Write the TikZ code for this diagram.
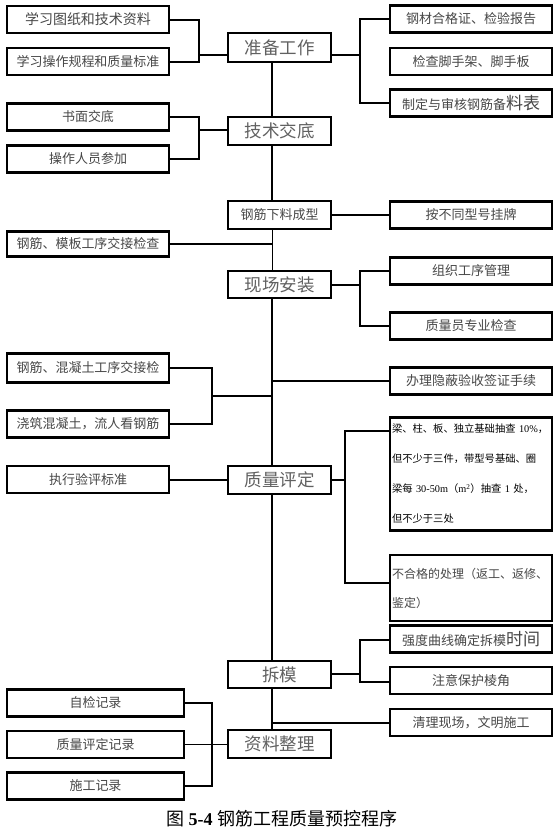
\documentclass[tikz,border=0pt]{standalone}
\usepackage{fontspec}
\setmainfont{Liberation Serif}
\newfontfamily\cjk{Noto Sans CJK SC}
\begin{document}
\begin{tikzpicture}[x=1pt,y=-1pt,
  box/.style={draw, line width=2.4pt, inner sep=0pt, text=black!72,
    font=\cjk\fontsize{13}{15}\selectfont, minimum height=27pt},
  lbox/.style={box, minimum width=162pt},
  wbox/.style={box, minimum width=177pt},
  cbox/.style={box, minimum width=103pt, minimum height=28pt, text=black!62,
    font=\cjk\fontsize{17.5}{19}\selectfont},
  rbox/.style={box, minimum width=162pt},
  conn/.style={line width=2pt},
  thinconn/.style={line width=1pt}]
\fill[white] (0,0) rectangle (560,831);
\useasboundingbox (0,0) rectangle (560,831);
\coordinate (sp) at (272,0);

% left boxes
\node[lbox] (L1) at (88,19.5) {\fontsize{14}{16}\selectfont 学习图纸和技术资料};
\node[lbox] (L2) at (88,61.5) {学习操作规程和质量标准};
\node[lbox] (L3) at (88,117) {书面交底};
\node[lbox] (L4) at (88,159) {操作人员参加};
\node[lbox, minimum height=25pt] (L5) at (88,244) {钢筋、模板工序交接检查};
\node[lbox, minimum height=29pt] (L6) at (88,368) {钢筋、混凝土工序交接检};
\node[lbox] (L7) at (88,424) {浇筑混凝土，流人看钢筋};
\node[lbox] (L8) at (88,479.5) {执行验评标准};
\node[wbox] (L9) at (95.5,703) {自检记录};
\node[wbox] (L10) at (95.5,744.5) {质量评定记录};
\node[wbox] (L11) at (95.5,786) {施工记录};

% centre boxes
\node[cbox, minimum height=29pt] (C1) at (279.5,47.5) {准备工作};
\node[cbox] (C2) at (279.5,131) {技术交底};
\node[cbox, text=black!72, font=\cjk\fontsize{13}{15}\selectfont] (C3) at (279.5,215) {钢筋下料成型};
\node[cbox, minimum height=27pt] (C4) at (279.5,284.5) {现场安装};
\node[cbox] (C5) at (279.5,480) {质量评定};
\node[cbox, minimum height=27pt] (C6) at (279.5,674.5) {拆模};
\node[cbox] (C7) at (279.5,744) {资料整理};

% right boxes
\node[rbox] (R1) at (471,19) {钢材合格证、检验报告};
\node[rbox] (R2) at (471,61.5) {检查脚手架、脚手板};
\node[rbox] (R3) at (471,103) {制定与审核钢筋备{\fontsize{17}{19}\selectfont 料表}};
\node[rbox] (R4) at (471,215) {按不同型号挂牌};
\node[rbox] (R5) at (471,271) {组织工序管理};
\node[rbox] (R6) at (471,326) {质量员专业检查};
\node[rbox] (R7) at (471,381) {办理隐蔽验收签证手续};
\node[rbox, minimum height=113pt, text width=158pt, inner xsep=2pt, align=left,
  text=black, font=\cjk\fontsize{10.3}{30}\selectfont] (R8) at (471,474)
  {\mbox{梁、柱、板、独立基础抽查~{\rmfamily 10\%}，}\\
   \mbox{但不少于三件，带型号基础、圈}\\
   \mbox{梁每~{\rmfamily 30-50m}（{\rmfamily m\textsuperscript{2}}）抽查~{\rmfamily 1}~处，}\\
   \mbox{但不少于三处}};
\node[rbox, minimum height=66pt, text width=158pt, inner xsep=2pt, align=left,
  font=\cjk\fontsize{12}{29}\selectfont] (R9) at (471,588)
  {\mbox{不合格的处理（返工、返修、}\\鉴定）};
\node[rbox] (R10) at (471,639) {强度曲线确定拆模{\fontsize{17}{19}\selectfont 时间}};
\node[rbox] (R11) at (471,680.5) {注意保护棱角};
\node[rbox] (R12) at (471,722.5) {清理现场，文明施工};

% spine
\draw[conn] (C1.south -| sp) -- (C2.north -| sp);
\draw[conn] (C2.south -| sp) -- (C3.north -| sp);
\draw[thinconn] (C3.south -| sp) -- (C4.north -| sp);
\draw[conn] (C4.south -| sp) -- (C5.north -| sp);
\draw[conn] (C5.south -| sp) -- (C6.north -| sp);
\draw[conn] (C6.south -| sp) -- (C7.north -| sp);

% section 1
\coordinate (b1) at (199,55);
\draw[conn] (L1.east) -| (b1) |- (L2.east);
\draw[conn] (b1) -- (b1 -| C1.west);
\coordinate (b2) at (360,55);
\draw[conn] (R1.west) -| (b2) |- (R3.west);
\draw[conn] (b2 -| C1.east) -- (b2);

% section 2
\coordinate (b5) at (199,130);
\draw[conn] (L3.east) -| (b5) |- (L4.east);
\draw[conn] (b5) -- (b5 -| C2.west);

% section 3
\draw[conn] (C3.east) -- (R4.west);
\draw[conn] (L5.east) -- (L5.east -| sp);

% section 4
\coordinate (b6) at (360,285);
\draw[conn] (R5.west) -| (b6) |- (R6.west);
\draw[conn] (b6 -| C4.east) -- (b6);
\draw[conn] (R7.west -| sp) -- (R7.west);
\coordinate (b3) at (212,396);
\draw[conn] (L6.east) -| (b3) |- (L7.east);
\draw[conn] (b3) -- (b3 -| sp);

% section 5
\draw[conn] (L8.east) -- (L8.east -| C5.west);
\coordinate (b4) at (345,480);
\draw[conn] ([yshift=-15pt]R8.north west) -| (b4) |- ([yshift=5pt]R9.west);
\draw[conn] (C5.east) -- (b4);

% section 6
\coordinate (b7) at (360,674);
\draw[conn] ([yshift=-1pt]R10.west) -| (b7) |- ([yshift=-1.5pt]R11.west);
\draw[conn] (b7 -| C6.east) -- (b7);
\draw[conn] (R12.west -| sp) -- (R12.west);
\coordinate (b8) at (212,744);
\draw[conn] (L9.east) -| (b8) |- (L11.east);
\draw[thinconn] (L10.east) -- (L10.east -| C7.west);

% caption
\node[anchor=west, inner sep=0pt, font=\fontsize{18}{20}\selectfont] (cap) at (166,819)
  {{\cjk 图}~\textbf{5-4}~{\cjk 钢筋工程质量预控程序}};
\end{tikzpicture}
\end{document}
